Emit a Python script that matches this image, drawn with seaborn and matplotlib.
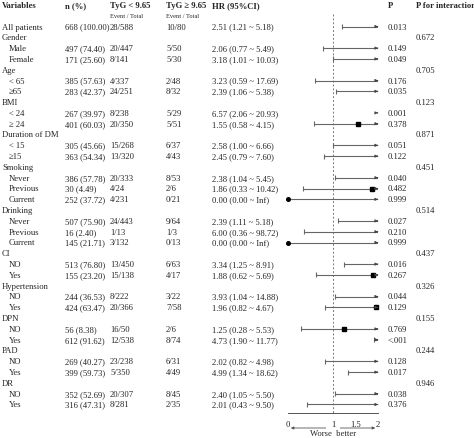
import matplotlib.pyplot as plt
import seaborn as sns
import numpy as np

sns.set_theme(style="white")
plt.rcParams['font.family'] = ['Liberation Serif', 'DejaVu Sans']

labels = ["All patients", "Gender", "Male", "Female", "Age", "< 65", "≥65", "BMI", "< 24", "≥ 24",
          "Duration of DM", "< 15", "≥15", "Smoking", "Never", "Previous", "Current",
          "Drinking", "Never", "Previous", "Current", "CI", "NO", "Yes", "Hypertension", "NO", "Yes",
          "DPN", "NO", "Yes", "PAD", "NO", "Yes", "DR", "NO", "Yes"]
is_sub = [False, False, True, True, False, True, True, False, True, True,
          False, True, True, False, True, True, True,
          False, True, True, True, False, True, True, False, True, True,
          False, True, True, False, True, True, False, True, True]
n_pct = ["668 (100.00)", "", "497 (74.40)", "171 (25.60)", "", "385 (57.63)", "283 (42.37)", "",
         "267 (39.97)", "401 (60.03)", "", "305 (45.66)", "363 (54.34)", "", "386 (57.78)",
         "30 (4.49)", "252 (37.72)", "", "507 (75.90)", "16 (2.40)", "145 (21.71)", "",
         "513 (76.80)", "155 (23.20)", "", "244 (36.53)", "424 (63.47)", "", "56 (8.38)",
         "612 (91.62)", "", "269 (40.27)", "399 (59.73)", "", "352 (52.69)", "316 (47.31)"]
low_tyg = ["28/588", "", "20/447", "8/141", "", "4/337", "24/251", "", "8/238", "20/350", "",
           "15/268", "13/320", "", "20/333", "4/24", "4/231", "", "24/443", "1/13", "3/132", "",
           "13/450", "15/138", "", "8/222", "20/366", "", "16/50", "12/538", "", "23/238", "5/350",
           "", "20/307", "8/281"]
high_tyg = ["10/80", "", "5/50", "5/30", "", "2/48", "8/32", "", "5/29", "5/51", "", "6/37", "4/43",
            "", "8/53", "2/6", "0/21", "", "9/64", "1/3", "0/13", "", "6/63", "4/17", "", "3/22",
            "7/58", "", "2/6", "8/74", "", "6/31", "4/49", "", "8/45", "2/35"]
hr = [2.51, None, 2.06, 3.18, None, 3.23, 2.39, None, 6.57, 1.55, None, 2.58, 2.45, None, 2.38,
      1.86, 0.00, None, 2.39, 6.00, 0.00, None, 3.34, 1.88, None, 3.93, 1.96, None, 1.25, 4.73,
      None, 2.02, 4.99, None, 2.40, 2.01]
ci_lo = [1.21, None, 0.77, 1.01, None, 0.59, 1.06, None, 2.06, 0.58, None, 1.00, 0.79, None, 1.04,
         0.33, 0.00, None, 1.11, 0.36, 0.00, None, 1.25, 0.62, None, 1.04, 0.82, None, 0.28, 1.90,
         None, 0.82, 1.34, None, 1.05, 0.43]
ci_hi = [5.18, None, 5.49, 10.03, None, 17.69, 5.38, None, 20.93, 4.15, None, 6.66, 7.60, None,
         5.45, 10.42, np.inf, None, 5.18, 98.72, np.inf, None, 8.91, 5.69, None, 14.88, 4.67, None,
         5.53, 11.77, None, 4.98, 18.62, None, 5.50, 9.50]
p_val = ["0.013", "", "0.149", "0.049", "", "0.176", "0.035", "", "0.001", "0.378", "", "0.051",
         "0.122", "", "0.040", "0.482", "0.999", "", "0.027", "0.210", "0.999", "", "0.016",
         "0.267", "", "0.044", "0.129", "", "0.769", "<.001", "", "0.128", "0.017", "", "0.038",
         "0.376"]
p_int = ["", "0.672", "", "", "0.705", "", "", "0.123", "", "", "0.871", "", "", "0.451", "", "",
         "", "0.514", "", "", "", "0.437", "", "", "0.326", "", "", "0.155", "", "", "0.244", "",
         "", "0.946", "", ""]

W, H = 474, 439
fig = plt.figure(figsize=(W / 100, H / 100), dpi=100)
ax = fig.add_axes([0, 0, 1, 1])
ax.set_xlim(0, W)
ax.set_ylim(H, 0)
ax.axis('off')

fs = 6.2
y0, dy = 27.5, 10.8
ys = [y0 + i * dy for i in range(len(labels))]

hdr = [(2, "Variables"), (65, "n (%)"), (110, "TyG < 9.65"), (166, "TyG ≥ 9.65"),
       (212, "HR (95%CI)"), (388, "P"), (416, "P for interaction")]
for x, t in hdr:
    ax.text(x, 6, t, fontsize=fs, fontweight='bold', va='center')
ax.text(110, 16, "Event / Total", fontsize=4.6, va='center')
ax.text(166, 16, "Event / Total", fontsize=4.6, va='center')

for i, y in enumerate(ys):
    ax.text(9 if is_sub[i] else 2, y, labels[i], fontsize=fs, va='center')
    ax.text(65, y, n_pct[i], fontsize=fs, va='center')
    ax.text(110, y, low_tyg[i], fontsize=fs, va='center')
    ax.text(166, y, high_tyg[i], fontsize=fs, va='center')
    if hr[i] is not None:
        hi_s = "Inf" if np.isinf(ci_hi[i]) else f"{ci_hi[i]:.2f}"
        ax.text(212, y, f"{hr[i]:.2f} ({ci_lo[i]:.2f} ~ {hi_s})", fontsize=fs, va='center')
    ax.text(388, y, p_val[i], fontsize=fs, va='center')
    ax.text(416, y, p_int[i], fontsize=fs, va='center')

# forest panel
x0, x1 = 288, 378
fa = fig.add_axes([x0 / W, 0, (x1 - x0) / W, 1])
fa.set_xlim(0, 2)
fa.set_ylim(H, 0)
fa.patch.set_alpha(0)
for s in ['top', 'right', 'left']:
    fa.spines[s].set_visible(False)
fa.spines['bottom'].set_position(('data', 414))
fa.spines['bottom'].set_color('#555555')
fa.spines['bottom'].set_linewidth(0.7)
fa.set_yticks([])
fa.set_xticks([0, 1, 1.5, 2])
fa.set_xticklabels(["0", "1", "1.5", "2"])
fa.tick_params(axis='x', direction='out', length=4, width=0.7, color='#555555',
               labelsize=fs, pad=1)
fa.vlines(1, 15, 414, color='#777777', linestyle=(0, (2, 2)), linewidth=0.7)

for i, y in enumerate(ys):
    if hr[i] is None:
        continue
    lo, hi = min(ci_lo[i], 2), min(ci_hi[i], 2)
    fa.hlines(y, lo, hi, color='#666666', linewidth=0.8)
    if ci_lo[i] > 0:
        fa.vlines(lo, y - 2.5, y + 2.5, color='#666666', linewidth=0.8)
    if ci_hi[i] > 2:
        fa.annotate("", xy=(2.0, y), xytext=(1.93, y),
                    arrowprops=dict(arrowstyle='-|>', color='#444444', lw=0.6, mutation_scale=4))
    if hr[i] < 2:
        mk = 'o' if hr[i] == 0 else 's'
        fa.plot(hr[i], y, marker=mk, color='black', markersize=2.6, clip_on=False)

fa.annotate("", xy=(0, 429), xytext=(0.9, 429),
            arrowprops=dict(arrowstyle='-|>', color='#555555', lw=0.6, mutation_scale=4))
fa.annotate("", xy=(2, 429), xytext=(1.1, 429),
            arrowprops=dict(arrowstyle='-|>', color='#555555', lw=0.6, mutation_scale=4))
fa.text(1, 434.5, "Worse  better", fontsize=fs, ha='center', va='center')

fig.savefig('out.png', dpi=100, facecolor='white')
